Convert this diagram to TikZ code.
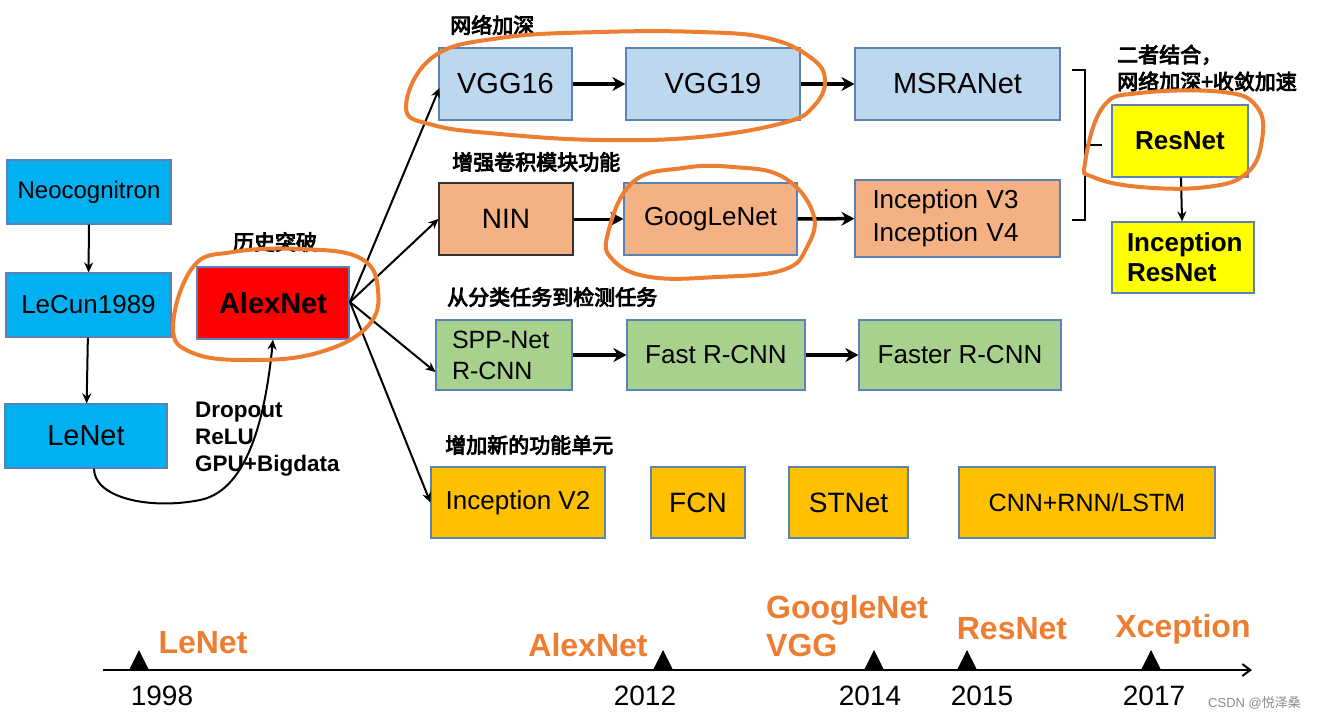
\documentclass[tikz,border=0pt]{standalone}
\usepackage{fontspec}
\setmainfont{Liberation Sans}
\newfontfamily\cjk{Noto Sans CJK SC}
\newfontfamily\cjkb{Noto Sans CJK SC}[FakeBold=4]
\usetikzlibrary{arrows.meta,calc}
\definecolor{cyanb}{HTML}{00B0F0}
\definecolor{lblue}{HTML}{BDD7EE}
\definecolor{peach}{HTML}{F4B183}
\definecolor{lgreen}{HTML}{A9D18E}
\definecolor{gold}{HTML}{FFC000}
\definecolor{yel}{HTML}{FFFF00}
\definecolor{bcol}{HTML}{5B82B5}
\definecolor{orng}{HTML}{ED7D31}
\begin{document}
\begin{tikzpicture}[x=1pt,y=-1pt,
  box/.style={draw=bcol, line width=1.2, inner sep=0, align=center, text=black,
    font=\fontsize{26}{31}\selectfont},
  cn/.style={anchor=west, inner sep=0, font=\cjkb\fontsize{21}{27}\selectfont},
  thin/.style={line width=2, -{Stealth[length=10,width=9]}},
  thick/.style={line width=3.5, -{Stealth[length=13,width=14]}},
  ring/.style={draw=orng, line width=4},
  tl/.style={text=orng, inner sep=0, font=\bfseries\fontsize{32}{38}\selectfont},
  yr/.style={inner sep=0, font=\fontsize{28}{32}\selectfont},
  tri/.style={fill=black}
]
\useasboundingbox[fill=white] (0,0) rectangle (1323,721);

% left column
\node[box,fill=cyanb,minimum width=164,minimum height=64,font=\fontsize{24}{28}\selectfont] (neo) at (89,192) {Neocognitron};
\node[box,fill=cyanb,minimum width=165,minimum height=64] (lecun) at (88.5,305) {LeCun1989};
\node[box,fill=cyanb,minimum width=162,minimum height=64,font=\fontsize{29}{33}\selectfont] (lenet) at (86,436) {LeNet};
\node[box,fill=red,minimum width=152,minimum height=72,font=\bfseries\fontsize{29}{33}\selectfont] (alex) at (273,303) {AlexNet};
\node[cn,anchor=center] (lbhist) at (275,242) {历史突破};
\node[anchor=west,inner sep=0,align=left,font=\bfseries\fontsize{22.5}{27}\selectfont] (tricks) at (195,439) {Dropout\\ReLU\\GPU+Bigdata};

% row 1
\node[cn] (lb1) at (450,25) {网络加深};
\node[box,fill=lblue,minimum width=133,minimum height=72,font=\fontsize{29}{33}\selectfont] (vgg16) at (505.5,84) {VGG16};
\node[box,fill=lblue,minimum width=174,minimum height=72,font=\fontsize{29}{33}\selectfont] (vgg19) at (713,84) {VGG19};
\node[box,fill=lblue,minimum width=205,minimum height=72,font=\fontsize{29}{33}\selectfont] (msra) at (957.5,84) {MSRANet};

% row 2
\node[cn] (lb2) at (452,162) {增强卷积模块功能};
\node[box,draw=black!80,fill=peach,minimum width=134,minimum height=72,font=\fontsize{28}{33}\selectfont] (nin) at (506,219) {NIN};
\node[box,fill=peach,minimum width=173,minimum height=72] (goog) at (710.5,219) {GoogLeNet};
\node[box,fill=peach,minimum width=205,minimum height=77,align=left,text width=170,font=\fontsize{26}{33}\selectfont] (incv3) at (957.5,218.5) {Inception V3\\Inception V4};

% right group
\node[cn,align=left,font=\cjkb\fontsize{21}{27}\selectfont] (lb5) at (1117,68) {二者结合，\\网络加深+收敛加速};
\node[box,fill=yel,minimum width=136,minimum height=72,font=\bfseries\fontsize{26}{31}\selectfont] (resnet) at (1180,141) {ResNet};
\node[box,fill=yel,minimum width=142,minimum height=71,align=left,text width=112,font=\bfseries\fontsize{26}{30}\selectfont] (incres) at (1183,257.5) {Inception\\ResNet};

% row 3
\node[cn] (lb3) at (447,297) {从分类任务到检测任务};
\node[box,fill=lgreen,minimum width=136,minimum height=70,align=left,text width=104,font=\fontsize{25}{31}\selectfont] (spp) at (504,355) {SPP-Net\\R-CNN};
\node[box,fill=lgreen,minimum width=178,minimum height=70] (fast) at (716,355) {Fast R-CNN};
\node[box,fill=lgreen,minimum width=202,minimum height=70] (faster) at (960,355) {Faster R-CNN};

% row 4
\node[cn] (lb4) at (445,445) {增加新的功能单元};
\node[box,fill=gold,minimum width=174,minimum height=71] (incv2) at (518,502.5) {Inception V2};
\node[box,fill=gold,minimum width=94,minimum height=71,font=\fontsize{28}{33}\selectfont] (fcn) at (698,502.5) {FCN};
\node[box,fill=gold,minimum width=119,minimum height=71,font=\fontsize{28}{33}\selectfont] (stnet) at (848.5,502.5) {STNet};
\node[box,fill=gold,minimum width=256,minimum height=71,font=\fontsize{25}{31}\selectfont] (cnnrnn) at (1087,502.5) {CNN+RNN/LSTM};

% arrows left column
\draw[thin] (neo) -- (lecun);
\draw[thin] (lecun) -- (lenet);
\draw[thin] ($(lenet.south)+(8,0)$) .. controls (94,498) and (150,510) .. (200,500)
   .. controls (250,490) and (266,410) .. (alex.south);

% fan from AlexNet
\coordinate (fan) at (350,302);
\draw[thin] (fan) -- ($(vgg16.west)+(1,4)$);
\draw[thin] (fan) -- (nin.west);
\draw[thin] (fan) -- ($(spp.west)+(0,17)$);
\draw[thin] (fan) -- (incv2.west);

% row arrows
\draw[thick] (vgg16) -- (vgg19);
\draw[thick] (vgg19) -- (msra);
\draw[thick,line width=3] (nin) -- (goog);
\draw[thick] (goog) -- (incv3);
\draw[thick] (spp) -- (fast);
\draw[thick] (fast) -- (faster);
\draw[thin] (resnet) -- (incres);

% bracket
\coordinate (bt) at (1085,70);
\coordinate (bb) at (1085,220);
\coordinate (bm) at (1085,145);
\draw[line width=2] ($(bt)+(-13,0)$) -- (bt) -- (bb) -- ($(bb)+(-13,0)$);
\draw[line width=2] (bm) -- ($(bm)+(17,0)$);

% orange rings
\draw[ring] plot[smooth cycle,tension=0.7] coordinates {(406,107) (433,57) (500,38) (600,32) (700,32) (767,38) (810,57) (825,80) (813,107) (783,123) (700,137) (600,140) (500,134) (433,125)};
\draw[ring] plot[smooth cycle,tension=0.7] coordinates {(608,233) (633,182) (683,168) (733,167) (783,177) (813,213) (807,247) (783,270) (717,277) (650,277) (613,260)};
\draw[ring] plot[smooth cycle,tension=0.7] coordinates {(1085,163) (1103,107) (1140,93) (1223,92) (1257,107) (1262,140) (1247,173) (1207,187) (1140,187) (1093,177)};
\draw[ring] plot[smooth cycle,tension=0.7] coordinates {(173,327) (193,267) (233,252) (300,249) (360,258) (378,290) (367,327) (317,353) (250,360) (193,353)};

% timeline
\coordinate (t0) at (103,670);
\coordinate (t1) at (1252,670);
\draw[line width=2,-{Straight Barb[length=8,width=12]}] (t0) -- (t1);
\foreach \x in {139,663,874,967,1151}
  \fill[tri] (\x-10,670) -- (\x,650) -- (\x+10,670) -- cycle;
\node[yr] (y1) at (162,696) {1998};
\node[yr] (y2) at (645,696) {2012};
\node[yr] (y3) at (870,696) {2014};
\node[yr] (y4) at (982,696) {2015};
\node[yr] (y5) at (1154,696) {2017};
\node[tl] (o1) at (203,643) {LeNet};
\node[tl] (o2) at (588,645) {AlexNet};
\node[tl,anchor=west,align=left] (o3) at (766,626) {GoogleNet\\VGG};
\node[tl] (o4) at (1012,629) {ResNet};
\node[tl] (o5) at (1183,629) {Xception};

\node[anchor=west,inner sep=0,text=black!45,font=\fontsize{13}{15}\selectfont] (wm) at (1208,703) {CSDN @{\cjk 悦泽桑}};
\end{tikzpicture}
\end{document}
